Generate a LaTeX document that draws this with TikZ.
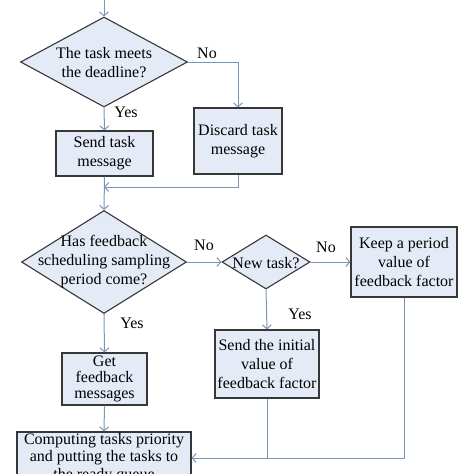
\documentclass[tikz,border=0pt]{standalone}
\usepackage{tikz}
\usetikzlibrary{positioning, arrows.meta, shapes.geometric, calc}
\usepackage{xcolor}
\usepackage{fontspec}
\setmainfont{Liberation Serif}
\definecolor{fillblue}{RGB}{229,235,246}
\definecolor{lineblue}{RGB}{122,150,182}
\definecolor{edgegray}{RGB}{55,55,55}

\begin{document}
\begin{tikzpicture}[x=1pt, y=-1pt,
    font=\fontsize{16}{19}\selectfont,
    caixa/.style={draw=edgegray, fill=fillblue, line width=1.1pt, align=center, inner sep=1pt},
    losango/.style={diamond, draw=edgegray, fill=fillblue, line width=1.1pt, inner sep=0pt},
    liga/.style={draw=lineblue, line width=1pt},
    seta/.style={liga, -{Straight Barb[length=4pt, width=9pt]}},
    rotulo/.style={inner sep=0pt}]
    \clip (0,0) rectangle (474,474);
    % Primeira decisao
    \coordinate (inicio) at (104,0);
    \node[losango, minimum width=167pt, minimum height=90pt] (prazo) at (104,62) {};
    \node[align=center] (prazotxt) at (104,63) {The task meets\\the deadline?};
    \node[caixa, minimum width=97pt, minimum height=45pt] (envia) at (104.5,153.5) {Send task\\message};
    \node[caixa, minimum width=88pt, minimum height=66pt] (descarta) at (238,141) {Discard task\\message};
    \coordinate (junta) at (104,187);
    % Segunda decisao
    \node[losango, minimum width=165pt, minimum height=103pt] (periodo) at (104,262) {};
    \node[align=center] (periodotxt) at (104,262) {Has feedback\\scheduling sampling\\period come?};
    \node[losango, minimum width=88pt, minimum height=54pt] (nova) at (266,262) {};
    \node (novatxt) at (266,263) {New task?};
    \node[caixa, minimum width=106pt, minimum height=70pt] (mantem) at (404,262) {Keep a period\\value of\\feedback factor};
    \node[caixa, minimum width=104pt, minimum height=68pt] (inicial) at (267,364) {Send the initial\\value of\\feedback factor};
    \node[caixa, minimum width=85pt, minimum height=52pt, font=\fontsize{16}{16}\selectfont] (obtem) at (104.5,379) {Get\\feedback\\messages};
    \node[caixa, minimum width=174pt, minimum height=52pt, font=\fontsize{16}{17.5}\selectfont] (calcula) at (104,458) {Computing tasks priority\\and putting the tasks to\\the ready queue};
    % Rotulos Yes/No
    \node[rotulo] (nao1) at (207,53) {No};
    \node[rotulo] (sim1) at (126,112) {Yes};
    \node[rotulo] (nao2) at (204,245) {No};
    \node[rotulo] (sim2) at (132,323) {Yes};
    \node[rotulo] (nao3) at (326,247) {No};
    \node[rotulo] (sim3) at (300,314) {Yes};
    % Ligacoes
    \draw[seta] (inicio) -- (prazo.north);
    \draw[seta] (prazo.east) -| (descarta.north);
    \draw[seta] (prazo.south) -- (envia.north);
    \draw[seta] (descarta.south) |- (junta);
    \draw[seta] (envia.south) -- (periodo.north);
    \draw[seta] (periodo.east) -- (nova.west);
    \draw[seta] (nova.east) -- (mantem.west);
    \draw[seta] (nova.south) -- (inicial.north);
    \draw[seta] (periodo.south) -- (obtem.north);
    \draw[seta] (obtem.south) -- (calcula.north);
    \draw[seta] (mantem.south) |- (calcula.east);
    \draw[liga] (inicial.south) -- (inicial.south |- calcula.east);
\end{tikzpicture}
\end{document}
